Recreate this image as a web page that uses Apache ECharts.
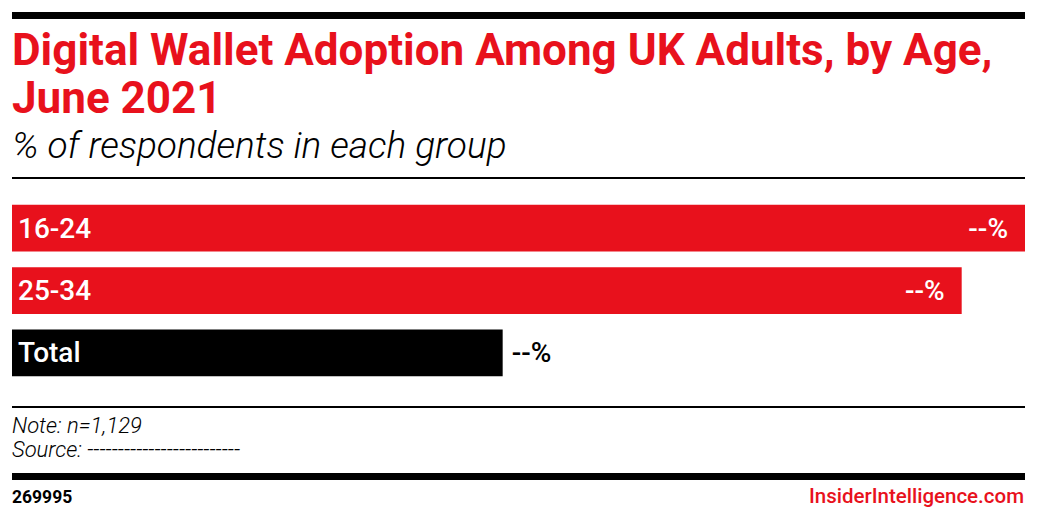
<!DOCTYPE html>
<html>
<head>
<meta charset="utf-8">
<script src="https://cdn.jsdelivr.net/npm/echarts@6/dist/echarts.min.js"></script>
<style>
  html, body { margin: 0; padding: 0; background: #fff; }
  #main { width: 1038px; height: 522px; }
</style>
</head>
<body>
<div id="main"></div>
<script>
var ageGroups = ['16-24', '25-34', 'Total'];
// values are hidden in the source ("--%"); lengths estimated from the bars
var adoption = [64, 60, 31];
var valueLabels = ['--%', '--%', '--%'];

var red = '#e8111c';
var myChart = echarts.init(document.getElementById('main'), null, { renderer: 'svg' });

var barData = adoption.map(function (v, i) {
    var isTotal = ageGroups[i] == 'Total';
    return {
        value: v,
        itemStyle: { color: isTotal ? '#000' : red },
        label: isTotal ? { position: 'right', color: '#000', distance: 9 }
                       : { position: 'insideRight', color: '#fff', distance: 17 }
    };
});

var hline = function (y, h) {
    return { type: 'rect', shape: { x: 12, y: y, width: 1013, height: h }, style: { fill: '#000' } };
};
var txt = function (x, y, text, font, fill, align) {
    return { type: 'text', x: x, y: y, style: { text: text, font: font, fill: fill, align: align || 'left', verticalAlign: 'top' } };
};

var option = {
    animation: false,
    grid: { left: 12, right: 13, top: 197, bottom: 138 },
    xAxis: { type: 'value', min: 0, max: 64, show: false },
    yAxis: {
        type: 'category',
        data: ageGroups,
        inverse: true,
        z: 10,
        axisLine: { show: false },
        axisTick: { show: false },
        axisLabel: {
            inside: true,
            margin: 6,
            color: '#fff',
            fontFamily: 'Roboto',
            fontWeight: 500,
            fontSize: 28
        }
    },
    series: [{
        type: 'bar',
        data: barData,
        barCategoryGap: '25%',
        label: {
            show: true,
            fontFamily: 'Roboto',
            fontWeight: 500,
            fontSize: 28,
            formatter: function (p) { return valueLabels[p.dataIndex]; }
        }
    }],
    graphic: [
        hline(12, 7),
        txt(12, 28, 'Digital Wallet Adoption Among UK Adults, by Age,', 'bold 44px Roboto', red),
        txt(12, 76, 'June 2021', 'bold 44px Roboto', red),
        txt(12, 127, '% of respondents in each group', 'italic 300 37px Roboto', '#000'),
        hline(177, 2),
        hline(406, 2),
        txt(12, 414, 'Note: n=1,129', 'italic 300 22px Roboto', '#000'),
        txt(12, 438, 'Source: -------------------------', 'italic 300 22px Roboto', '#000'),
        hline(473, 7),
        txt(12, 488, '269995', 'bold 17.5px Roboto', '#000'),
        txt(1024, 485, 'InsiderIntelligence.com', '500 20.5px Roboto', red, 'right')
    ]
};
myChart.setOption(option);
</script>
</body>
</html>
